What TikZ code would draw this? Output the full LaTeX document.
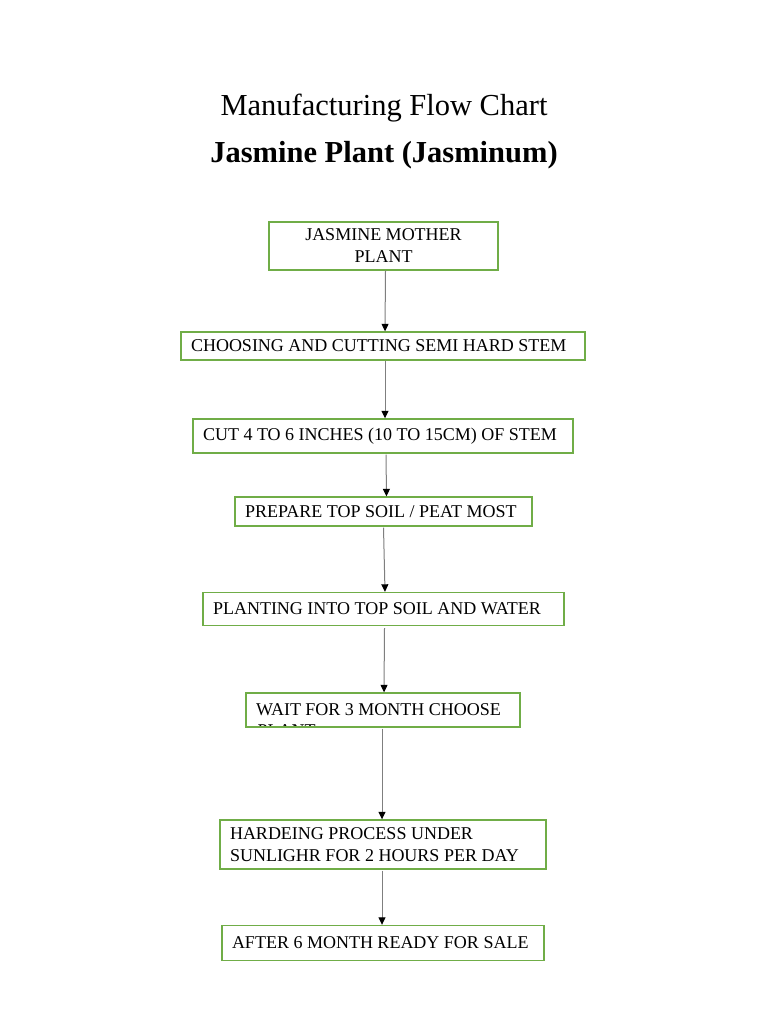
\documentclass[tikz,border=0pt]{standalone}
\usepackage{fontspec}
\setmainfont{Liberation Serif}
\usetikzlibrary{arrows.meta}
\definecolor{boxgreen}{HTML}{70AD47}
\definecolor{linegray}{HTML}{7F7F7F}
\begin{document}
\begin{tikzpicture}[x=1pt,y=-1pt,
  stepbox/.style={draw=boxgreen, line width=1.4pt, rectangle, inner xsep=10pt, inner ysep=0pt,
    font=\fontsize{18}{22}\selectfont, anchor=center},
  flow/.style={draw=linegray, line width=1pt, -{Triangle[length=7.5pt,width=7pt,color=black]}},
  titlea/.style={font=\fontsize{30.5}{36}\selectfont},
  titleb/.style={font=\fontsize{30.5}{36}\selectfont\bfseries}]
\useasboundingbox[fill=white] (0,0) rectangle (768,1024);
\node[titlea] (t1) at (384,108) {Manufacturing Flow Chart};
\node[titleb] (t2) at (384,155) {Jasmine Plant (Jasminum)};

\node[stepbox, minimum width=229pt, minimum height=48pt, align=center] (n1) at (383.5,246)
  {JASMINE MOTHER\\PLANT};
\node[stepbox, minimum width=404pt, minimum height=28pt] (n2) at (383,346)
  {\makebox[384pt][l]{CHOOSING AND CUTTING SEMI HARD STEM}};
\node[stepbox, minimum width=380pt, minimum height=34pt] (n3) at (383,436)
  {\makebox[360pt][l]{CUT 4 TO 6 INCHES (10 TO 15CM) OF STEM}};
\node[stepbox, minimum width=297pt, minimum height=29pt] (n4) at (383.5,511.5)
  {\makebox[277pt][l]{PREPARE TOP SOIL / PEAT MOST}};
\node[stepbox, minimum width=361pt, minimum height=33pt] (n5) at (383.5,609)
  {\makebox[341pt][l]{PLANTING INTO TOP SOIL AND WATER}};
\node[stepbox, minimum width=274pt, minimum height=34pt,
  path picture={\node[draw=none, anchor=base west, inner sep=0pt, minimum width=0pt, minimum height=0pt,
     font=\fontsize{18}{22}\selectfont]
     at ([xshift=11pt,yshift=-9pt]path picture bounding box.south west) {PLANT};}] (n6) at (383,710)
  {\makebox[254pt][l]{WAIT FOR 3 MONTH CHOOSE}};
\node[stepbox, minimum width=326pt, minimum height=49pt, align=left] (n7) at (383,844.5)
  {\makebox[306pt][l]{HARDEING PROCESS UNDER}\\\makebox[306pt][l]{SUNLIGHR FOR 2 HOURS PER DAY}};
\node[stepbox, minimum width=322pt, minimum height=35pt] (n8) at (383,943)
  {\makebox[302pt][l]{AFTER 6 MONTH READY FOR SALE}};

\draw[flow] ([xshift=2pt]n1.south) -- ([xshift=2pt]n2.north);
\draw[flow] ([xshift=2pt]n2.south) -- ([xshift=2pt]n3.north);
\draw[flow] ([xshift=3pt,yshift=-1pt]n3.south) -- ([xshift=3pt]n4.north);
\draw[flow] ([yshift=-1pt]n4.south) -- ([xshift=1.5pt]n5.north);
\draw[flow] ([xshift=1pt,yshift=-2pt]n5.south) -- ([xshift=1pt]n6.north);
\draw[flow] ([xshift=-1pt,yshift=-1pt]n6.south) -- ([xshift=-1pt]n7.north);
\draw[flow] ([xshift=-1pt,yshift=-1pt]n7.south) -- ([xshift=-1pt]n8.north);
\end{tikzpicture}
\end{document}
